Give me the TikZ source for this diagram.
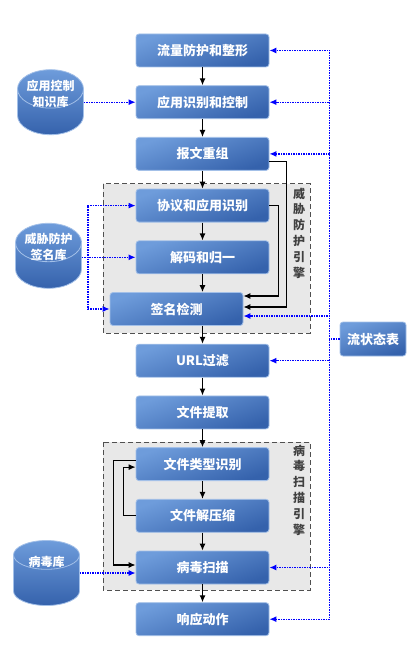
\documentclass[tikz,border=0pt]{standalone}
\usepackage{fontspec}
\setmainfont{Noto Sans CJK SC}
\usetikzlibrary{shapes.geometric,arrows.meta}
\definecolor{boxtop}{HTML}{6E9CDB}
\definecolor{boxbot}{HTML}{3562AC}
\definecolor{boxline}{HTML}{A3C0E8}
\definecolor{grpfill}{HTML}{E8E8E8}
\definecolor{grpline}{HTML}{505050}

\begin{document}
\begin{tikzpicture}[x=1pt, y=-1pt, node distance={51.7pt}, line width=1.2pt,
    main/.style = {draw=boxline, line width=0.8pt, rectangle, rounded corners=3pt, top color=boxtop, bottom color=boxbot, shading angle=20, text=white, font=\bfseries\fontsize{13}{15}\selectfont, minimum width=133pt, minimum height=33pt, inner sep=0pt},
    db/.style = {draw=boxline, line width=0.8pt, cylinder, shape border rotate=90, aspect=0.8, top color=boxtop, bottom color=boxbot, text=white, font=\bfseries\fontsize{12}{16}\selectfont, minimum width=66pt, minimum height=65pt, inner sep=0pt, align=center},
    group/.style = {draw=grpline, fill=grpfill, line width=1pt, dash pattern=on 5pt off 3pt},
    engine/.style = {text=black!75, font=\bfseries\fontsize{12}{15.8}\selectfont, align=center, inner sep=0pt},
    link/.style = {draw=black, -{Latex[length=7pt,width=6pt]}},
    flow/.style = {draw=blue, dash pattern=on 1.5pt off 1pt, line width=1.3pt, -{Latex[length=7pt,width=6pt]}}]
    \useasboundingbox (0,0) rectangle (417,660);
    \draw[group] (103,184) rectangle (310,333);
    \draw[group] (103,442) rectangle (310,590);
    \node[engine] (e1) at (299,233) {威\\胁\\防\\护\\引\\擎};
    \node[engine] (e2) at (299,490) {病\\毒\\扫\\描\\引\\擎};
    \node[main] (1) at (202.5,50.5) {流量防护和整形};
    \node[main] (2) [below of=1] {应用识别和控制};
    \node[main] (3) [below of=2] {报文重组};
    \node[main] (4) [below of=3] {协议和应用识别};
    \node[main] (5) [below of=4] {解码和归一};
    \node[main] (6) [below of=5, xshift=-26pt] {签名检测};
    \node[main] (7) [below of=6, xshift=26pt] {URL过滤};
    \node[main] (8) [below of=7] {文件提取};
    \node[main] (9) [below of=8] {文件类型识别};
    \node[main] (10) [below of=9] {文件解压缩};
    \node[main] (11) [below of=10] {病毒扫描};
    \node[main] (12) [below of=11] {响应动作};
    \node[main, minimum width=66pt, minimum height=34pt] (13) at (373,339) {流状态表};
    \node[db] (14) [left of=2, node distance=152pt, anchor=shape center] {\smash{\raisebox{14pt}{\begin{tabular}{@{}c@{}}应用控制\\知识库\end{tabular}}}};
    \node[db] (15) [left of=5, node distance=154pt, yshift=1.5pt, anchor=shape center] {\smash{\raisebox{14pt}{\begin{tabular}{@{}c@{}}威胁防护\\签名库\end{tabular}}}};
    \node[db] (16) [left of=11, node distance=156pt, yshift=-5.5pt, anchor=shape center] {\smash{\raisebox{14pt}{病毒库}}};
    % main flow
    \draw[link] (1) -- (2);
    \draw[link] (2) -- (3);
    \draw[link] (3) -- (4);
    \draw[link] (4) -- (5);
    \draw[link] (5) -- (5 |- 6.north);
    \draw[link] (7 |- 6.south) -- (7);
    \draw[link] (7) -- (8);
    \draw[link] (8) -- (9);
    \draw[link] (9) -- (10);
    \draw[link] (10) -- (11);
    \draw[link] (11) -- (12);
    \draw[link] ([yshift=-8pt]3.east) -- ++(17,0) |- ([yshift=2pt]6.east);
    \draw[link] (4.east) -- ++(9,0) |- ([yshift=13pt]6.east);
    \draw[link] (10.west) -- ++(-12,0) |- ([yshift=-3pt]9.west);
    \draw[link] ([yshift=4pt]9.west) -- ++(-22,0) |- ([yshift=2.5pt]11.west);
    % libraries
    \draw[flow] (14.east |- 2) -- (2.west);
    \draw[flow] (15.east |- 5) -- (5.west);
    \coordinate (tap) at ([xshift=6pt]15.east |- 5);
    \draw[flow] (15.east |- 5) -- (tap) |- (4.west);
    \draw[flow] (15.east |- 5) -- (tap) |- (6.west);
    \draw[flow] (16.east |- 16.shape center) -- (16.shape center -| 11.west);
    % flow state table
    \coordinate (bus) at ([xshift=-10pt]13.west);
    \draw[flow, -] (13.west) -- (bus);
    \draw[flow] (bus) |- (1.east);
    \draw[flow] (bus) |- (2.east);
    \draw[flow] (bus) |- (3.east);
    \draw[flow] (bus) |- ([yshift=-7pt]6.east);
    \draw[flow] (bus) |- (7.east);
    \draw[flow] (bus) |- (11.east);
    \draw[flow] (bus) |- (12.east);
\end{tikzpicture}
\end{document}
